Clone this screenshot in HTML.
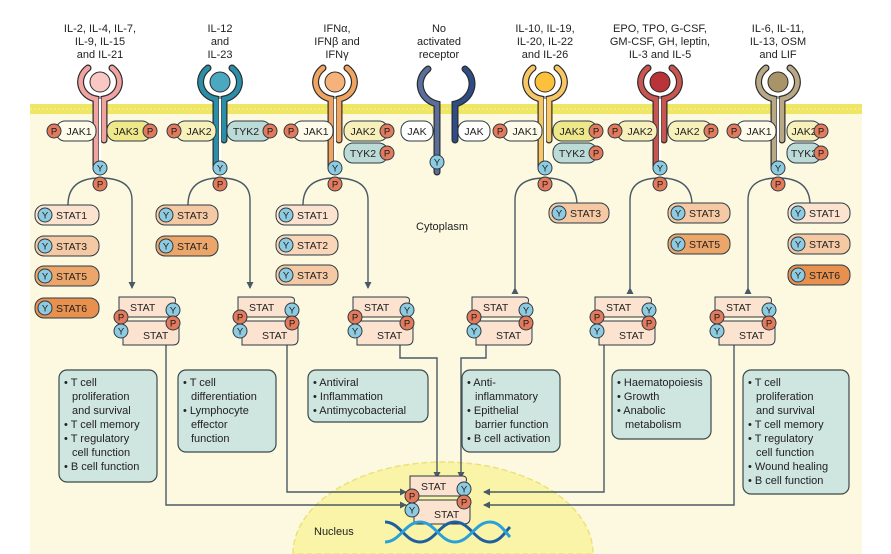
<!DOCTYPE html>
<html><head><meta charset="utf-8"><style>
html,body{margin:0;padding:0;background:#fff;overflow:hidden;width:891px;height:554px}
svg{display:block;font-family:"Liberation Sans",sans-serif}
.lb{font-size:11px;fill:#222;text-anchor:middle}
.bt{font-size:11px;fill:#222}
.j{font-size:10.5px;fill:#222;text-anchor:middle}
.s{font-size:10.5px;fill:#222}
.ln{fill:none;stroke:#4a5a64;stroke-width:1.4}
.c{font-size:9.5px;fill:#1a1a1a;text-anchor:middle}
</style></head><body>
<svg width="891" height="554" viewBox="0 0 891 554" overflow="hidden">
<defs>
<marker id="ar" markerWidth="8" markerHeight="8" refX="6" refY="4" orient="auto" markerUnits="userSpaceOnUse"><path d="M0,0.5 L7,4 L0,7.5 z" fill="#4a5a64"/></marker>
<g id="Y"><circle r="7" fill="#8ecbe0" stroke="#2b3a44" stroke-width="1"/></g>
<g id="P"><circle r="7" fill="#e37a5c" stroke="#2b3a44" stroke-width="1"/></g>
<g id="arms">
<path d="M-12,-14 C-25,-4 -20,14 -4,17 L-4,86 M12,-14 C25,-4 20,14 4,17 L4,58" fill="none" stroke="#2b2b2b" stroke-width="7" stroke-linecap="round"/>
<path d="M-12,-14 C-25,-4 -20,14 -4,17 L-4,86 M12,-14 C25,-4 20,14 4,17 L4,58" fill="none" stroke="currentColor" stroke-width="4.6" stroke-linecap="round"/>
<path d="M0,17 L0,86" stroke="#fff" stroke-width="2.2"/>
</g>
<g id="dim">
<path d="M-30,-24 L22,-24 Q28,-24 26,-18 L26,-4 L-30,-4 Z" fill="#fbe3d0" stroke="#2b3a44" stroke-width="1"/>
<path d="M-26,0 L30,0 L30,18 Q30,24 24,24 L-26,24 Z" fill="#fbe3d0" stroke="#2b3a44" stroke-width="1"/>
</g>
</defs>

<rect x="30" y="106" width="832" height="448" fill="#fdf9e1"/>
<rect x="30" y="104" width="832" height="10" fill="#efe763"/>
<line x1="30" y1="109" x2="862" y2="109" stroke="#f7f2a8" stroke-width="1" stroke-dasharray="2 2"/>
<path d="M293,554 A150,92 0 0 1 593,554 Z" fill="#faf4a8" stroke="#ece27a" stroke-width="1.5" stroke-dasharray="6 3"/>

<g class="lb">
<text x="100" y="32">IL-2, IL-4, IL-7,</text><text x="100" y="45">IL-9, IL-15</text><text x="100" y="58">and IL-21</text>
<text x="220" y="32">IL-12</text><text x="220" y="45">and</text><text x="220" y="58">IL-23</text>
<text x="337" y="32">IFNα,</text><text x="337" y="45">IFNβ and</text><text x="337" y="58">IFNγ</text>
<text x="439" y="32">No</text><text x="439" y="45">activated</text><text x="439" y="58">receptor</text>
<text x="545" y="32">IL-10, IL-19,</text><text x="545" y="45">IL-20, IL-22</text><text x="545" y="58">and IL-26</text>
<text x="660" y="32">EPO, TPO, G-CSF,</text><text x="660" y="45">GM-CSF, GH, leptin,</text><text x="660" y="58">IL-3 and IL-5</text>
<text x="778" y="32">IL-6, IL-11,</text><text x="778" y="45">IL-13, OSM</text><text x="778" y="58">and LIF</text>
</g>

<use href="#arms" x="100" y="82" style="color:#f0a3a0"/><circle cx="100" cy="82" r="10" fill="#f9c8c3" stroke="#2b2b2b"/>
<use href="#arms" x="220" y="82" style="color:#2b8ea8"/><circle cx="220" cy="82" r="10" fill="#4aa8c0" stroke="#2b2b2b"/>
<use href="#arms" x="335" y="82" style="color:#f0a462"/><circle cx="335" cy="82" r="10" fill="#f5b27a" stroke="#2b2b2b"/>
<use href="#arms" x="545" y="82" style="color:#f7c766"/><circle cx="545" cy="82" r="10" fill="#fbc13c" stroke="#2b2b2b"/>
<use href="#arms" x="660" y="82" style="color:#c85550"/><circle cx="660" cy="82" r="10" fill="#b83438" stroke="#2b2b2b"/>
<use href="#arms" x="778" y="82" style="color:#b9a886"/><circle cx="778" cy="82" r="10" fill="#a89468" stroke="#2b2b2b"/>
<g fill="none" stroke-linecap="round">
<path d="M428,69 C414,80 420,100 437,104 L437,172" stroke="#2b2b2b" stroke-width="7"/>
<path d="M428,69 C414,80 420,100 437,104 L437,172" stroke="#5a6e9c" stroke-width="4.6"/>
<path d="M465,69 C478,80 472,100 455,104 L455,140" stroke="#2b2b2b" stroke-width="7"/>
<path d="M465,69 C478,80 472,100 455,104 L455,140" stroke="#2e4c86" stroke-width="4.6"/>
</g>

<g stroke="#2b3a44" stroke-width="1">
<rect x="56" y="121" width="40" height="20" rx="9" fill="#fffbea"/><rect x="107" y="121" width="44" height="20" rx="9" fill="#efe88a"/>
<rect x="176" y="121" width="40" height="20" rx="9" fill="#f7f0bb"/><rect x="227" y="121" width="44" height="20" rx="9" fill="#bcdad6"/>
<rect x="293" y="121" width="40" height="20" rx="9" fill="#fffbea"/><rect x="344" y="121" width="44" height="20" rx="9" fill="#f7f0bb"/><rect x="344" y="143" width="44" height="20" rx="9" fill="#bcdad6"/>
<rect x="401" y="121" width="32" height="20" rx="9" fill="#fff"/><rect x="458" y="121" width="32" height="20" rx="9" fill="#fff"/>
<rect x="502" y="121" width="40" height="20" rx="9" fill="#fffbea"/><rect x="553" y="121" width="44" height="20" rx="9" fill="#efe88a"/><rect x="553" y="143" width="44" height="20" rx="9" fill="#bcdad6"/>
<rect x="617" y="121" width="40" height="20" rx="9" fill="#f7f0bb"/><rect x="668" y="121" width="44" height="20" rx="9" fill="#f7f0bb"/>
<rect x="736" y="121" width="40" height="20" rx="9" fill="#fffbea"/><rect x="787" y="121" width="34" height="20" rx="9" fill="#f7f0bb"/><rect x="787" y="143" width="34" height="20" rx="9" fill="#bcdad6"/>
</g>
<g class="j">
<text x="79" y="135">JAK1</text><text x="126" y="135">JAK3</text>
<text x="199" y="135">JAK2</text><text x="246" y="135">TYK2</text>
<text x="316" y="135">JAK1</text><text x="363" y="135">JAK2</text><text x="363" y="157">TYK2</text>
<text x="417" y="135">JAK</text><text x="474" y="135">JAK</text>
<text x="525" y="135">JAK1</text><text x="572" y="135">JAK3</text><text x="572" y="157">TYK2</text>
<text x="640" y="135">JAK2</text><text x="687" y="135">JAK2</text>
<text x="759" y="135">JAK1</text><text x="804" y="135">JAK2</text><text x="804" y="157">TYK2</text>
</g>
<g>
<use href="#P" x="54" y="131"/><use href="#P" x="150" y="131"/>
<use href="#P" x="174" y="131"/><use href="#P" x="270" y="131"/>
<use href="#P" x="291" y="131"/><use href="#P" x="387" y="131"/><use href="#P" x="387" y="153"/>
<use href="#P" x="500" y="131"/><use href="#P" x="596" y="131"/><use href="#P" x="596" y="153"/>
<use href="#P" x="615" y="131"/><use href="#P" x="711" y="131"/>
<use href="#P" x="734" y="131"/><use href="#P" x="821" y="131"/><use href="#P" x="821" y="153"/>
</g>
<g class="c">
<text x="54" y="134.5">P</text><text x="150" y="134.5">P</text>
<text x="174" y="134.5">P</text><text x="270" y="134.5">P</text>
<text x="291" y="134.5">P</text><text x="387" y="134.5">P</text><text x="387" y="156.5">P</text>
<text x="500" y="134.5">P</text><text x="596" y="134.5">P</text><text x="596" y="156.5">P</text>
<text x="615" y="134.5">P</text><text x="711" y="134.5">P</text>
<text x="734" y="134.5">P</text><text x="821" y="134.5">P</text><text x="821" y="156.5">P</text>
</g>

<g class="ln">
<path d="M68,205 Q68,178 100,178 Q132,178 132,200 L132,288" marker-end="url(#ar)"/>
<path d="M188,205 Q188,178 220,178 Q250,178 250,200 L250,288" marker-end="url(#ar)"/>
<path d="M303,205 Q303,178 335,178 Q368,178 368,200 L368,288" marker-end="url(#ar)"/>
<path d="M515,288 L515,200 Q515,178 545,178 Q577,178 577,205" marker-start="url(#ar)"/>
<path d="M630,288 L630,200 Q630,178 660,178 Q692,178 692,205" marker-start="url(#ar)"/>
<path d="M748,288 L748,200 Q748,178 778,178 Q810,178 810,205" marker-start="url(#ar)"/>
<path d="M166,345 L166,505 L406,505" marker-end="url(#ar)"/>
<path d="M287,345 L287,492 L406,492" marker-end="url(#ar)"/>
<path d="M400,345 L400,358 L437,358 L437,478" marker-end="url(#ar)"/>
<path d="M486,345 L486,358 L461,358 L461,478" marker-end="url(#ar)"/>
<path d="M604,345 L604,492 L484,492" marker-end="url(#ar)"/>
<path d="M734,345 L734,505 L484,505" marker-end="url(#ar)"/>
</g>
<g>
<use href="#Y" x="100" y="168"/><use href="#P" x="100" y="184"/>
<use href="#Y" x="220" y="168"/><use href="#P" x="220" y="184"/>
<use href="#Y" x="335" y="168"/><use href="#P" x="335" y="184"/>
<use href="#Y" x="437" y="162"/>
<use href="#Y" x="545" y="168"/><use href="#P" x="545" y="184"/>
<use href="#Y" x="660" y="168"/><use href="#P" x="660" y="184"/>
<use href="#Y" x="778" y="168"/><use href="#P" x="778" y="184"/>
</g>
<g class="c">
<text x="100" y="171.5">Y</text><text x="100" y="187.5">P</text>
<text x="220" y="171.5">Y</text><text x="220" y="187.5">P</text>
<text x="335" y="171.5">Y</text><text x="335" y="187.5">P</text>
<text x="437" y="165.5">Y</text>
<text x="545" y="171.5">Y</text><text x="545" y="187.5">P</text>
<text x="660" y="171.5">Y</text><text x="660" y="187.5">P</text>
<text x="778" y="171.5">Y</text><text x="778" y="187.5">P</text>
</g>

<g stroke="#2b3a44" stroke-width="1">
<rect x="35" y="205" width="64" height="20" rx="9" fill="#fbe3d0"/>
<rect x="35" y="236" width="64" height="20" rx="9" fill="#f5c9a3"/>
<rect x="35" y="266" width="64" height="20" rx="9" fill="#eda66a"/>
<rect x="35" y="298" width="64" height="20" rx="9" fill="#e8904e"/>
<rect x="156" y="205" width="62" height="20" rx="9" fill="#f5c9a3"/>
<rect x="156" y="236" width="62" height="20" rx="9" fill="#eda66a"/>
<rect x="276" y="205" width="62" height="20" rx="9" fill="#fbe3d0"/>
<rect x="276" y="235" width="62" height="20" rx="9" fill="#f9d6b8"/>
<rect x="276" y="265" width="62" height="20" rx="9" fill="#f5c9a3"/>
<rect x="549" y="203" width="60" height="20" rx="9" fill="#f5c9a3"/>
<rect x="668" y="203" width="62" height="20" rx="9" fill="#f5c9a3"/>
<rect x="668" y="234" width="62" height="20" rx="9" fill="#eda66a"/>
<rect x="788" y="203" width="62" height="20" rx="9" fill="#fbe3d0"/>
<rect x="788" y="234" width="62" height="20" rx="9" fill="#f5c9a3"/>
<rect x="788" y="265" width="62" height="20" rx="9" fill="#e8904e"/>
</g>
<g>
<use href="#Y" x="45" y="215"/><use href="#Y" x="45" y="246"/><use href="#Y" x="45" y="276"/><use href="#Y" x="45" y="308"/>
<use href="#Y" x="166" y="215"/><use href="#Y" x="166" y="246"/>
<use href="#Y" x="286" y="215"/><use href="#Y" x="286" y="245"/><use href="#Y" x="286" y="275"/>
<use href="#Y" x="559" y="213"/>
<use href="#Y" x="678" y="213"/><use href="#Y" x="678" y="244"/>
<use href="#Y" x="798" y="213"/><use href="#Y" x="798" y="244"/><use href="#Y" x="798" y="275"/>
</g>
<g class="c">
<text x="45" y="218.5">Y</text><text x="45" y="249.5">Y</text><text x="45" y="279.5">Y</text><text x="45" y="311.5">Y</text>
<text x="166" y="218.5">Y</text><text x="166" y="249.5">Y</text>
<text x="286" y="218.5">Y</text><text x="286" y="248.5">Y</text><text x="286" y="278.5">Y</text>
<text x="559" y="216.5">Y</text>
<text x="678" y="216.5">Y</text><text x="678" y="247.5">Y</text>
<text x="798" y="216.5">Y</text><text x="798" y="247.5">Y</text><text x="798" y="278.5">Y</text>
</g>
<g class="s">
<text x="56" y="219">STAT1</text><text x="56" y="250">STAT3</text><text x="56" y="280">STAT5</text><text x="56" y="312">STAT6</text>
<text x="177" y="219">STAT3</text><text x="177" y="250">STAT4</text>
<text x="297" y="219">STAT1</text><text x="297" y="249">STAT2</text><text x="297" y="279">STAT3</text>
<text x="570" y="217">STAT3</text>
<text x="689" y="217">STAT3</text><text x="689" y="248">STAT5</text>
<text x="809" y="217">STAT1</text><text x="809" y="248">STAT3</text><text x="809" y="279">STAT6</text>
</g>
<text x="442" y="230" class="bt" text-anchor="middle">Cytoplasm</text>

<g>
<use href="#dim" x="149" y="321"/><use href="#dim" x="268" y="321"/><use href="#dim" x="383" y="321"/>
<use href="#dim" x="502" y="321"/><use href="#dim" x="625" y="321"/><use href="#dim" x="745" y="321"/>
<use href="#dim" x="440" y="500"/>
</g>
<g>
<use href="#Y" x="173" y="310"/><use href="#P" x="173" y="323"/><use href="#P" x="121" y="317"/><use href="#Y" x="121" y="331"/>
<use href="#Y" x="292" y="310"/><use href="#P" x="292" y="323"/><use href="#P" x="240" y="317"/><use href="#Y" x="240" y="331"/>
<use href="#Y" x="407" y="310"/><use href="#P" x="407" y="323"/><use href="#P" x="355" y="317"/><use href="#Y" x="355" y="331"/>
<use href="#Y" x="526" y="310"/><use href="#P" x="526" y="323"/><use href="#P" x="474" y="317"/><use href="#Y" x="474" y="331"/>
<use href="#Y" x="649" y="310"/><use href="#P" x="649" y="323"/><use href="#P" x="597" y="317"/><use href="#Y" x="597" y="331"/>
<use href="#Y" x="769" y="310"/><use href="#P" x="769" y="323"/><use href="#P" x="717" y="317"/><use href="#Y" x="717" y="331"/>
<use href="#Y" x="464" y="489"/><use href="#P" x="464" y="502"/><use href="#P" x="412" y="496"/><use href="#Y" x="412" y="510"/>
</g>
<g class="c">
<text x="173" y="313.5">Y</text><text x="173" y="326.5">P</text><text x="121" y="320.5">P</text><text x="121" y="334.5">Y</text>
<text x="292" y="313.5">Y</text><text x="292" y="326.5">P</text><text x="240" y="320.5">P</text><text x="240" y="334.5">Y</text>
<text x="407" y="313.5">Y</text><text x="407" y="326.5">P</text><text x="355" y="320.5">P</text><text x="355" y="334.5">Y</text>
<text x="526" y="313.5">Y</text><text x="526" y="326.5">P</text><text x="474" y="320.5">P</text><text x="474" y="334.5">Y</text>
<text x="649" y="313.5">Y</text><text x="649" y="326.5">P</text><text x="597" y="320.5">P</text><text x="597" y="334.5">Y</text>
<text x="769" y="313.5">Y</text><text x="769" y="326.5">P</text><text x="717" y="320.5">P</text><text x="717" y="334.5">Y</text>
<text x="464" y="492.5">Y</text><text x="464" y="505.5">P</text><text x="412" y="499.5">P</text><text x="412" y="513.5">Y</text>
</g>
<g class="s">
<text x="130" y="311">STAT</text><text x="143" y="339">STAT</text>
<text x="249" y="311">STAT</text><text x="262" y="339">STAT</text>
<text x="364" y="311">STAT</text><text x="377" y="339">STAT</text>
<text x="483" y="311">STAT</text><text x="496" y="339">STAT</text>
<text x="606" y="311">STAT</text><text x="619" y="339">STAT</text>
<text x="726" y="311">STAT</text><text x="739" y="339">STAT</text>
<text x="421" y="490">STAT</text><text x="434" y="518">STAT</text>
</g>

<g fill="none" stroke-width="3">
<path d="M385,522 C400,522 405,542 420,542 C435,542 440,522 455,522 C470,522 475,542 490,542 C500,542 505,532 510,527" stroke="#1f5f9e"/>
<path d="M385,542 C400,542 405,522 420,522 C435,522 440,542 455,542 C470,542 475,522 490,522 C500,522 505,532 510,537" stroke="#2aa0d8"/>
</g>
<text x="314" y="535" class="bt">Nucleus</text>

<g fill="#cfe5e0" stroke="#3a4a4a" stroke-width="1.2">
<rect x="59" y="370" width="98" height="112" rx="8"/>
<rect x="178" y="370" width="98" height="82" rx="8"/>
<rect x="308" y="370" width="120" height="52" rx="8"/>
<rect x="462" y="370" width="98" height="82" rx="8"/>
<rect x="612" y="370" width="99" height="69" rx="8"/>
<rect x="743" y="370" width="106" height="124" rx="8"/>
</g>
<g class="bt">
<text x="64" y="386">• T cell</text><text x="72" y="400">proliferation</text><text x="72" y="414">and survival</text><text x="64" y="428">• T cell memory</text><text x="64" y="442">• T regulatory</text><text x="72" y="456">cell function</text><text x="64" y="470">• B cell function</text>
<text x="183" y="386">• T cell</text><text x="191" y="400">differentiation</text><text x="183" y="414">• Lymphocyte</text><text x="191" y="428">effector</text><text x="191" y="442">function</text>
<text x="313" y="386">• Antiviral</text><text x="313" y="400">• Inflammation</text><text x="313" y="414">• Antimycobacterial</text>
<text x="467" y="386">• Anti-</text><text x="475" y="400">inflammatory</text><text x="467" y="414">• Epithelial</text><text x="475" y="428">barrier function</text><text x="467" y="442">• B cell activation</text>
<text x="617" y="386">• Haematopoiesis</text><text x="617" y="400">• Growth</text><text x="617" y="414">• Anabolic</text><text x="625" y="428">metabolism</text>
<text x="748" y="386">• T cell</text><text x="756" y="400">proliferation</text><text x="756" y="414">and survival</text><text x="748" y="428">• T cell memory</text><text x="748" y="442">• T regulatory</text><text x="756" y="456">cell function</text><text x="748" y="470">• Wound healing</text><text x="748" y="484">• B cell function</text>
</g>
</svg>
</body></html>
